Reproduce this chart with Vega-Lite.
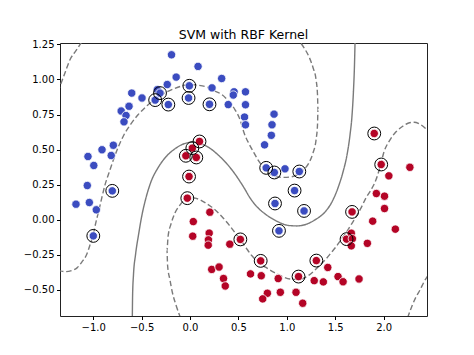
{
  "$schema": "https://vega.github.io/schema/vega-lite/v6.json",
  "autosize": {"type": "none"},
  "padding": {"left": 60, "top": 43, "right": 47, "bottom": 39},
  "width": 367,
  "height": 273,
  "background": "white",
  "config": {
    "font": "DejaVu Sans",
    "view": {"stroke": "#222", "strokeWidth": 1},
    "axis": {"grid": false, "domain": false, "tickColor": "#000", "labelColor": "#000", "labelFontSize": 10, "tickSize": 3.5, "labelPadding": 2.5, "title": null}
  },
  "title": {"text": "SVM with RBF Kernel", "fontSize": 12.5, "fontWeight": "normal", "color": "#000", "anchor": "middle", "frame": "group", "offset": -2},
  "datasets": {
    "pts": [
      {"x": -0.602, "y": 0.903, "c": "0", "sv": false},
      {"x": -0.496, "y": 0.868, "c": "0", "sv": false},
      {"x": -0.630, "y": 0.809, "c": "0", "sv": false},
      {"x": -0.711, "y": 0.775, "c": "0", "sv": false},
      {"x": -0.661, "y": 0.743, "c": "0", "sv": false},
      {"x": -0.682, "y": 0.698, "c": "0", "sv": false},
      {"x": -0.792, "y": 0.531, "c": "0", "sv": false},
      {"x": -0.909, "y": 0.499, "c": "0", "sv": false},
      {"x": -0.814, "y": 0.458, "c": "0", "sv": false},
      {"x": -1.054, "y": 0.451, "c": "0", "sv": false},
      {"x": -0.994, "y": 0.387, "c": "0", "sv": false},
      {"x": -1.061, "y": 0.244, "c": "0", "sv": false},
      {"x": -1.178, "y": 0.111, "c": "0", "sv": false},
      {"x": -1.040, "y": 0.123, "c": "0", "sv": false},
      {"x": -0.968, "y": 0.071, "c": "0", "sv": false},
      {"x": -0.803, "y": 0.206, "c": "0", "sv": true},
      {"x": -0.999, "y": -0.115, "c": "0", "sv": true},
      {"x": -0.191, "y": 1.176, "c": "0", "sv": false},
      {"x": 0.083, "y": 1.093, "c": "0", "sv": false},
      {"x": -0.143, "y": 1.017, "c": "0", "sv": false},
      {"x": -0.235, "y": 0.964, "c": "0", "sv": false},
      {"x": 0.327, "y": 1.007, "c": "0", "sv": false},
      {"x": 0.227, "y": 0.940, "c": "0", "sv": false},
      {"x": 0.455, "y": 0.912, "c": "0", "sv": false},
      {"x": 0.447, "y": 0.889, "c": "0", "sv": false},
      {"x": 0.395, "y": 0.821, "c": "0", "sv": false},
      {"x": -0.338, "y": 0.927, "c": "0", "sv": false},
      {"x": -0.310, "y": 0.903, "c": "0", "sv": true},
      {"x": -0.360, "y": 0.853, "c": "0", "sv": true},
      {"x": -0.224, "y": 0.821, "c": "0", "sv": true},
      {"x": -0.007, "y": 0.955, "c": "0", "sv": true},
      {"x": -0.015, "y": 0.868, "c": "0", "sv": true},
      {"x": 0.201, "y": 0.823, "c": "0", "sv": true},
      {"x": 0.573, "y": 0.912, "c": "0", "sv": false},
      {"x": 0.573, "y": 0.820, "c": "0", "sv": false},
      {"x": 0.563, "y": 0.732, "c": "0", "sv": false},
      {"x": 0.573, "y": 0.677, "c": "0", "sv": false},
      {"x": 0.868, "y": 0.753, "c": "0", "sv": false},
      {"x": 0.847, "y": 0.677, "c": "0", "sv": false},
      {"x": 0.840, "y": 0.602, "c": "0", "sv": false},
      {"x": 0.770, "y": 0.534, "c": "0", "sv": false},
      {"x": 0.787, "y": 0.370, "c": "0", "sv": true},
      {"x": 0.871, "y": 0.337, "c": "0", "sv": true},
      {"x": 0.981, "y": 0.363, "c": "0", "sv": false},
      {"x": 1.129, "y": 0.344, "c": "0", "sv": true},
      {"x": 1.080, "y": 0.208, "c": "0", "sv": true},
      {"x": 0.878, "y": 0.116, "c": "0", "sv": true},
      {"x": 1.178, "y": 0.063, "c": "0", "sv": true},
      {"x": 0.919, "y": -0.079, "c": "0", "sv": true},
      {"x": 0.098, "y": 0.558, "c": "1", "sv": true},
      {"x": 0.024, "y": 0.511, "c": "1", "sv": true},
      {"x": -0.043, "y": 0.456, "c": "1", "sv": true},
      {"x": 0.065, "y": 0.444, "c": "1", "sv": true},
      {"x": -0.010, "y": 0.308, "c": "1", "sv": true},
      {"x": -0.028, "y": 0.154, "c": "1", "sv": true},
      {"x": 0.205, "y": 0.054, "c": "1", "sv": false},
      {"x": 0.034, "y": -0.013, "c": "1", "sv": false},
      {"x": 0.028, "y": -0.117, "c": "1", "sv": false},
      {"x": 0.198, "y": -0.095, "c": "1", "sv": false},
      {"x": 0.190, "y": -0.143, "c": "1", "sv": false},
      {"x": 0.188, "y": -0.181, "c": "1", "sv": false},
      {"x": 0.411, "y": -0.174, "c": "1", "sv": false},
      {"x": 0.520, "y": -0.140, "c": "1", "sv": true},
      {"x": 0.224, "y": -0.354, "c": "1", "sv": false},
      {"x": 0.300, "y": -0.337, "c": "1", "sv": false},
      {"x": 0.346, "y": -0.419, "c": "1", "sv": false},
      {"x": 0.364, "y": -0.472, "c": "1", "sv": false},
      {"x": 0.730, "y": -0.293, "c": "1", "sv": true},
      {"x": 1.121, "y": -0.405, "c": "1", "sv": true},
      {"x": 1.305, "y": -0.291, "c": "1", "sv": true},
      {"x": 0.625, "y": -0.386, "c": "1", "sv": false},
      {"x": 0.736, "y": -0.399, "c": "1", "sv": false},
      {"x": 0.911, "y": -0.419, "c": "1", "sv": false},
      {"x": 1.283, "y": -0.434, "c": "1", "sv": false},
      {"x": 1.377, "y": -0.443, "c": "1", "sv": false},
      {"x": 1.423, "y": -0.340, "c": "1", "sv": false},
      {"x": 1.529, "y": -0.405, "c": "1", "sv": false},
      {"x": 1.581, "y": -0.442, "c": "1", "sv": false},
      {"x": 1.746, "y": -0.422, "c": "1", "sv": false},
      {"x": 0.799, "y": -0.524, "c": "1", "sv": false},
      {"x": 0.751, "y": -0.564, "c": "1", "sv": false},
      {"x": 0.933, "y": -0.517, "c": "1", "sv": false},
      {"x": 1.095, "y": -0.517, "c": "1", "sv": false},
      {"x": 1.164, "y": -0.595, "c": "1", "sv": false},
      {"x": 1.674, "y": 0.056, "c": "1", "sv": true},
      {"x": 1.617, "y": -0.138, "c": "1", "sv": true},
      {"x": 1.666, "y": -0.096, "c": "1", "sv": false},
      {"x": 1.677, "y": -0.135, "c": "1", "sv": false},
      {"x": 1.666, "y": -0.186, "c": "1", "sv": false},
      {"x": 1.832, "y": -0.168, "c": "1", "sv": false},
      {"x": 1.887, "y": -0.010, "c": "1", "sv": false},
      {"x": 1.925, "y": 0.187, "c": "1", "sv": false},
      {"x": 2.009, "y": 0.168, "c": "1", "sv": false},
      {"x": 2.009, "y": 0.080, "c": "1", "sv": false},
      {"x": 2.121, "y": -0.067, "c": "1", "sv": false},
      {"x": 1.903, "y": 0.615, "c": "1", "sv": true},
      {"x": 1.975, "y": 0.394, "c": "1", "sv": true},
      {"x": 2.054, "y": 0.313, "c": "1", "sv": false},
      {"x": 2.271, "y": 0.374, "c": "1", "sv": false}
    ],
    "cont": [
      {"seg": "s0", "lv": "0", "i": 0, "x": -0.596, "y": -0.700},
      {"seg": "s0", "lv": "0", "i": 1, "x": -0.593, "y": -0.536},
      {"seg": "s0", "lv": "0", "i": 2, "x": -0.584, "y": -0.393},
      {"seg": "s0", "lv": "0", "i": 3, "x": -0.563, "y": -0.250},
      {"seg": "s0", "lv": "0", "i": 4, "x": -0.532, "y": -0.108},
      {"seg": "s0", "lv": "0", "i": 5, "x": -0.496, "y": 0.035},
      {"seg": "s0", "lv": "0", "i": 6, "x": -0.455, "y": 0.156},
      {"seg": "s0", "lv": "0", "i": 7, "x": -0.403, "y": 0.271},
      {"seg": "s0", "lv": "0", "i": 8, "x": -0.331, "y": 0.370},
      {"seg": "s0", "lv": "0", "i": 9, "x": -0.248, "y": 0.449},
      {"seg": "s0", "lv": "0", "i": 10, "x": -0.155, "y": 0.506},
      {"seg": "s0", "lv": "0", "i": 11, "x": -0.062, "y": 0.542},
      {"seg": "s0", "lv": "0", "i": 12, "x": 0.021, "y": 0.552},
      {"seg": "s0", "lv": "0", "i": 13, "x": 0.114, "y": 0.541},
      {"seg": "s0", "lv": "0", "i": 14, "x": 0.207, "y": 0.509},
      {"seg": "s0", "lv": "0", "i": 15, "x": 0.289, "y": 0.463},
      {"seg": "s0", "lv": "0", "i": 16, "x": 0.372, "y": 0.406},
      {"seg": "s0", "lv": "0", "i": 17, "x": 0.455, "y": 0.335},
      {"seg": "s0", "lv": "0", "i": 18, "x": 0.558, "y": 0.228},
      {"seg": "s0", "lv": "0", "i": 19, "x": 0.620, "y": 0.156},
      {"seg": "s0", "lv": "0", "i": 20, "x": 0.692, "y": 0.092},
      {"seg": "s0", "lv": "0", "i": 21, "x": 0.775, "y": 0.042},
      {"seg": "s0", "lv": "0", "i": 22, "x": 0.899, "y": -0.011},
      {"seg": "s0", "lv": "0", "i": 23, "x": 1.012, "y": -0.040},
      {"seg": "s0", "lv": "0", "i": 24, "x": 1.105, "y": -0.044},
      {"seg": "s0", "lv": "0", "i": 25, "x": 1.209, "y": -0.030},
      {"seg": "s0", "lv": "0", "i": 26, "x": 1.302, "y": 0.004},
      {"seg": "s0", "lv": "0", "i": 27, "x": 1.395, "y": 0.056},
      {"seg": "s0", "lv": "0", "i": 28, "x": 1.467, "y": 0.128},
      {"seg": "s0", "lv": "0", "i": 29, "x": 1.529, "y": 0.228},
      {"seg": "s0", "lv": "0", "i": 30, "x": 1.581, "y": 0.342},
      {"seg": "s0", "lv": "0", "i": 31, "x": 1.622, "y": 0.463},
      {"seg": "s0", "lv": "0", "i": 32, "x": 1.653, "y": 0.606},
      {"seg": "s0", "lv": "0", "i": 33, "x": 1.674, "y": 0.748},
      {"seg": "s0", "lv": "0", "i": 34, "x": 1.689, "y": 0.927},
      {"seg": "s0", "lv": "0", "i": 35, "x": 1.699, "y": 1.105},
      {"seg": "s0", "lv": "0", "i": 36, "x": 1.705, "y": 1.276},

      {"seg": "d1", "lv": "1", "i": 0, "x": -1.364, "y": -0.361},
      {"seg": "d1", "lv": "1", "i": 1, "x": -1.281, "y": -0.370},
      {"seg": "d1", "lv": "1", "i": 2, "x": -1.219, "y": -0.361},
      {"seg": "d1", "lv": "1", "i": 3, "x": -1.167, "y": -0.343},
      {"seg": "d1", "lv": "1", "i": 4, "x": -1.116, "y": -0.300},
      {"seg": "d1", "lv": "1", "i": 5, "x": -1.069, "y": -0.250},
      {"seg": "d1", "lv": "1", "i": 6, "x": -1.033, "y": -0.179},
      {"seg": "d1", "lv": "1", "i": 7, "x": -1.002, "y": -0.108},
      {"seg": "d1", "lv": "1", "i": 8, "x": -0.971, "y": -0.015},
      {"seg": "d1", "lv": "1", "i": 9, "x": -0.940, "y": 0.071},
      {"seg": "d1", "lv": "1", "i": 10, "x": -0.909, "y": 0.163},
      {"seg": "d1", "lv": "1", "i": 11, "x": -0.878, "y": 0.249},
      {"seg": "d1", "lv": "1", "i": 12, "x": -0.837, "y": 0.335},
      {"seg": "d1", "lv": "1", "i": 13, "x": -0.795, "y": 0.420},
      {"seg": "d1", "lv": "1", "i": 14, "x": -0.744, "y": 0.513},
      {"seg": "d1", "lv": "1", "i": 15, "x": -0.682, "y": 0.606},
      {"seg": "d1", "lv": "1", "i": 16, "x": -0.610, "y": 0.684},
      {"seg": "d1", "lv": "1", "i": 17, "x": -0.537, "y": 0.748},
      {"seg": "d1", "lv": "1", "i": 18, "x": -0.444, "y": 0.813},
      {"seg": "d1", "lv": "1", "i": 19, "x": -0.351, "y": 0.863},
      {"seg": "d1", "lv": "1", "i": 20, "x": -0.258, "y": 0.905},
      {"seg": "d1", "lv": "1", "i": 21, "x": -0.165, "y": 0.934},
      {"seg": "d1", "lv": "1", "i": 22, "x": -0.072, "y": 0.956},
      {"seg": "d1", "lv": "1", "i": 23, "x": 0.000, "y": 0.963},
      {"seg": "d1", "lv": "1", "i": 24, "x": 0.083, "y": 0.959},
      {"seg": "d1", "lv": "1", "i": 25, "x": 0.165, "y": 0.948},
      {"seg": "d1", "lv": "1", "i": 26, "x": 0.248, "y": 0.920},
      {"seg": "d1", "lv": "1", "i": 27, "x": 0.331, "y": 0.891},
      {"seg": "d1", "lv": "1", "i": 28, "x": 0.403, "y": 0.841},
      {"seg": "d1", "lv": "1", "i": 29, "x": 0.465, "y": 0.784},
      {"seg": "d1", "lv": "1", "i": 30, "x": 0.517, "y": 0.713},
      {"seg": "d1", "lv": "1", "i": 31, "x": 0.558, "y": 0.620},
      {"seg": "d1", "lv": "1", "i": 32, "x": 0.610, "y": 0.541},
      {"seg": "d1", "lv": "1", "i": 33, "x": 0.661, "y": 0.477},
      {"seg": "d1", "lv": "1", "i": 34, "x": 0.702, "y": 0.427},
      {"seg": "d1", "lv": "1", "i": 35, "x": 0.754, "y": 0.377},
      {"seg": "d1", "lv": "1", "i": 36, "x": 0.826, "y": 0.327},
      {"seg": "d1", "lv": "1", "i": 37, "x": 0.899, "y": 0.306},
      {"seg": "d1", "lv": "1", "i": 38, "x": 0.971, "y": 0.302},
      {"seg": "d1", "lv": "1", "i": 39, "x": 1.043, "y": 0.306},
      {"seg": "d1", "lv": "1", "i": 40, "x": 1.105, "y": 0.320},
      {"seg": "d1", "lv": "1", "i": 41, "x": 1.167, "y": 0.352},
      {"seg": "d1", "lv": "1", "i": 42, "x": 1.229, "y": 0.406},
      {"seg": "d1", "lv": "1", "i": 43, "x": 1.271, "y": 0.477},
      {"seg": "d1", "lv": "1", "i": 44, "x": 1.302, "y": 0.570},
      {"seg": "d1", "lv": "1", "i": 45, "x": 1.317, "y": 0.677},
      {"seg": "d1", "lv": "1", "i": 46, "x": 1.322, "y": 0.784},
      {"seg": "d1", "lv": "1", "i": 47, "x": 1.317, "y": 0.891},
      {"seg": "d1", "lv": "1", "i": 48, "x": 1.302, "y": 0.998},
      {"seg": "d1", "lv": "1", "i": 49, "x": 1.271, "y": 1.084},
      {"seg": "d1", "lv": "1", "i": 50, "x": 1.229, "y": 1.162},
      {"seg": "d1", "lv": "1", "i": 51, "x": 1.178, "y": 1.226},
      {"seg": "d1", "lv": "1", "i": 52, "x": 1.126, "y": 1.276},

      {"seg": "d1b", "lv": "1", "i": 0, "x": -1.364, "y": 0.912},
      {"seg": "d1b", "lv": "1", "i": 1, "x": -1.343, "y": 0.952},
      {"seg": "d1b", "lv": "1", "i": 2, "x": -1.291, "y": 1.048},
      {"seg": "d1b", "lv": "1", "i": 3, "x": -1.240, "y": 1.141},
      {"seg": "d1b", "lv": "1", "i": 4, "x": -1.178, "y": 1.205},
      {"seg": "d1b", "lv": "1", "i": 5, "x": -1.111, "y": 1.276},

      {"seg": "d2", "lv": "1", "i": 0, "x": -0.098, "y": -0.700},
      {"seg": "d2", "lv": "1", "i": 1, "x": -0.145, "y": -0.607},
      {"seg": "d2", "lv": "1", "i": 2, "x": -0.181, "y": -0.522},
      {"seg": "d2", "lv": "1", "i": 3, "x": -0.207, "y": -0.429},
      {"seg": "d2", "lv": "1", "i": 4, "x": -0.232, "y": -0.322},
      {"seg": "d2", "lv": "1", "i": 5, "x": -0.238, "y": -0.215},
      {"seg": "d2", "lv": "1", "i": 6, "x": -0.227, "y": -0.122},
      {"seg": "d2", "lv": "1", "i": 7, "x": -0.196, "y": -0.029},
      {"seg": "d2", "lv": "1", "i": 8, "x": -0.155, "y": 0.049},
      {"seg": "d2", "lv": "1", "i": 9, "x": -0.103, "y": 0.106},
      {"seg": "d2", "lv": "1", "i": 10, "x": -0.041, "y": 0.149},
      {"seg": "d2", "lv": "1", "i": 11, "x": 0.021, "y": 0.156},
      {"seg": "d2", "lv": "1", "i": 12, "x": 0.093, "y": 0.146},
      {"seg": "d2", "lv": "1", "i": 13, "x": 0.176, "y": 0.113},
      {"seg": "d2", "lv": "1", "i": 14, "x": 0.258, "y": 0.071},
      {"seg": "d2", "lv": "1", "i": 15, "x": 0.331, "y": 0.021},
      {"seg": "d2", "lv": "1", "i": 16, "x": 0.403, "y": -0.036},
      {"seg": "d2", "lv": "1", "i": 17, "x": 0.465, "y": -0.093},
      {"seg": "d2", "lv": "1", "i": 18, "x": 0.522, "y": -0.143},
      {"seg": "d2", "lv": "1", "i": 19, "x": 0.579, "y": -0.200},
      {"seg": "d2", "lv": "1", "i": 20, "x": 0.640, "y": -0.257},
      {"seg": "d2", "lv": "1", "i": 21, "x": 0.702, "y": -0.300},
      {"seg": "d2", "lv": "1", "i": 22, "x": 0.785, "y": -0.340},
      {"seg": "d2", "lv": "1", "i": 23, "x": 0.868, "y": -0.375},
      {"seg": "d2", "lv": "1", "i": 24, "x": 0.950, "y": -0.404},
      {"seg": "d2", "lv": "1", "i": 25, "x": 1.033, "y": -0.422},
      {"seg": "d2", "lv": "1", "i": 26, "x": 1.126, "y": -0.425},
      {"seg": "d2", "lv": "1", "i": 27, "x": 1.209, "y": -0.404},
      {"seg": "d2", "lv": "1", "i": 28, "x": 1.281, "y": -0.365},
      {"seg": "d2", "lv": "1", "i": 29, "x": 1.343, "y": -0.322},
      {"seg": "d2", "lv": "1", "i": 30, "x": 1.405, "y": -0.279},
      {"seg": "d2", "lv": "1", "i": 31, "x": 1.457, "y": -0.236},
      {"seg": "d2", "lv": "1", "i": 32, "x": 1.508, "y": -0.193},
      {"seg": "d2", "lv": "1", "i": 33, "x": 1.560, "y": -0.143},
      {"seg": "d2", "lv": "1", "i": 34, "x": 1.612, "y": -0.093},
      {"seg": "d2", "lv": "1", "i": 35, "x": 1.663, "y": -0.036},
      {"seg": "d2", "lv": "1", "i": 36, "x": 1.715, "y": 0.021},
      {"seg": "d2", "lv": "1", "i": 37, "x": 1.767, "y": 0.085},
      {"seg": "d2", "lv": "1", "i": 38, "x": 1.818, "y": 0.156},
      {"seg": "d2", "lv": "1", "i": 39, "x": 1.870, "y": 0.213},
      {"seg": "d2", "lv": "1", "i": 40, "x": 1.921, "y": 0.285},
      {"seg": "d2", "lv": "1", "i": 41, "x": 1.963, "y": 0.377},
      {"seg": "d2", "lv": "1", "i": 42, "x": 2.004, "y": 0.484},
      {"seg": "d2", "lv": "1", "i": 43, "x": 2.066, "y": 0.570},
      {"seg": "d2", "lv": "1", "i": 44, "x": 2.128, "y": 0.627},
      {"seg": "d2", "lv": "1", "i": 45, "x": 2.190, "y": 0.663},
      {"seg": "d2", "lv": "1", "i": 46, "x": 2.252, "y": 0.688},
      {"seg": "d2", "lv": "1", "i": 47, "x": 2.314, "y": 0.695},
      {"seg": "d2", "lv": "1", "i": 48, "x": 2.376, "y": 0.681},
      {"seg": "d2", "lv": "1", "i": 49, "x": 2.469, "y": 0.627},

      {"seg": "d2b", "lv": "1", "i": 0, "x": 2.247, "y": -0.700},
      {"seg": "d2b", "lv": "1", "i": 1, "x": 2.293, "y": -0.614},
      {"seg": "d2b", "lv": "1", "i": 2, "x": 2.335, "y": -0.550},
      {"seg": "d2b", "lv": "1", "i": 3, "x": 2.376, "y": -0.500},
      {"seg": "d2b", "lv": "1", "i": 4, "x": 2.417, "y": -0.443},
      {"seg": "d2b", "lv": "1", "i": 5, "x": 2.469, "y": -0.386}
    ]
  },
  "encoding": {
    "x": {"field": "x", "type": "quantitative", "scale": {"domain": [-1.343, 2.448], "nice": false, "zero": false},
          "axis": {"values": [-1, -0.5, 0, 0.5, 1, 1.5, 2], "format": ".1f"}},
    "y": {"field": "y", "type": "quantitative", "scale": {"domain": [-0.686, 1.26], "nice": false, "zero": false},
          "axis": {"values": [-0.5, -0.25, 0, 0.25, 0.5, 0.75, 1, 1.25], "format": ".2f"}}
  },
  "layer": [
    {
      "data": {"name": "cont"},
      "mark": {"type": "line", "clip": true, "color": "#7a7a7a", "strokeWidth": 1.4, "interpolate": "monotone"},
      "encoding": {
        "detail": {"field": "seg"},
        "order": {"field": "i", "type": "quantitative"},
        "strokeDash": {"field": "lv", "type": "nominal", "scale": {"domain": ["0", "1"], "range": [[1, 0], [5.5, 2.8]]}, "legend": null}
      }
    },
    {
      "data": {"name": "pts"},
      "mark": {"type": "circle", "size": 70, "opacity": 1, "stroke": "white", "strokeWidth": 0.8},
      "encoding": {
        "color": {"field": "c", "type": "nominal", "scale": {"domain": ["0", "1"], "range": ["#3b4cc0", "#b40426"]}, "legend": null}
      }
    },
    {
      "data": {"name": "pts"},
      "transform": [{"filter": "datum.sv"}],
      "mark": {"type": "point", "shape": "circle", "filled": false, "size": 165, "stroke": "#000", "strokeWidth": 1, "opacity": 1}
    }
  ]
}
